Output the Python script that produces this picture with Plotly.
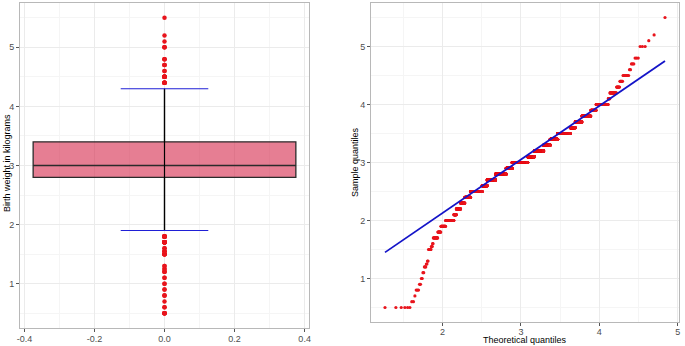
import numpy as np
import plotly.graph_objects as go
from statistics import NormalDist

# Birth weights (kg) and how many babies had each value (read from the Q-Q steps)
weights = [0.5, 0.6, 0.7, 0.8, 0.9, 1.0, 1.1, 1.2, 1.25, 1.3, 1.5, 1.55, 1.6, 1.7, 1.8, 1.9,
           2.0, 2.1, 2.2, 2.3, 2.4, 2.5, 2.6, 2.7, 2.8, 2.9, 3.0, 3.1, 3.2, 3.3, 3.4, 3.5,
           3.6, 3.7, 3.8, 3.9, 4.0, 4.1, 4.2, 4.3, 4.4, 4.5, 4.6, 4.7, 4.8, 5.0, 5.1, 5.2, 5.5]
counts = [6, 2, 1, 3, 2, 2, 2, 3, 2, 2, 6, 3, 2, 14, 12, 23,
          58, 22, 46, 55, 92, 258, 143, 285, 439, 278, 777, 331, 441, 280, 283, 375,
          113, 124, 121, 52, 77, 7, 22, 8, 6, 9, 2, 3, 3, 3, 1, 1, 1]

left_xticks = [-0.4, -0.2, 0.0, 0.2, 0.4]
left_xticklabels = ["-0.4", "-0.2", "0.0", "0.2", "0.4"]
yticks = [1, 2, 3, 4, 5]
right_xticks = [2, 3, 4, 5]

data = np.sort(np.repeat(np.array(weights), counts))
n = len(data)

# Box-plot statistics
q1, med, q3 = np.quantile(data, [0.25, 0.5, 0.75])
iqr = q3 - q1
upper = data[data <= q3 + 1.5 * iqr + 1e-9].max()
lower = data[data >= q1 - 1.5 * iqr - 1e-9].min()
outliers = data[(data > upper) | (data < lower)]

# Q-Q against a normal with the sample's mean and sd
mu = data.mean()
sd = data.std(ddof=1)
nd = NormalDist(mu, sd)
probs = (np.arange(1, n + 1) - 0.5) / n
theo = np.array([nd.inv_cdf(p) for p in probs])
tq1, tq3 = nd.inv_cdf(0.25), nd.inv_cdf(0.75)
slope = (q3 - q1) / (tq3 - tq1)
intercept = q1 - slope * tq1
line_x = np.array([theo.min(), theo.max()])
line_y = intercept + slope * line_x

W, H = 685, 346
def fx(px):
    return px / W
def fy(py):
    return 1 - py / H

fig = go.Figure()

# Left panel
fig.add_trace(go.Scatter(x=[0, 0], y=[lower, upper], mode="lines",
                         line=dict(color="black", width=1.2), xaxis="x", yaxis="y",
                         hoverinfo="skip"))
fig.add_trace(go.Scatter(x=[-0.125, 0.125, None, -0.125, 0.125],
                         y=[upper, upper, None, lower, lower], mode="lines",
                         line=dict(color="#1f1fd6", width=1.1), xaxis="x", yaxis="y"))
fig.add_trace(go.Box(x=[0], q1=[q1], median=[med], q3=[q3], lowerfence=[lower],
                     upperfence=[upper], width=0.75, whiskerwidth=0,
                     fillcolor="rgba(214,40,75,0.6)",
                     line=dict(color="#2b2b2b", width=1.3), boxpoints=False,
                     xaxis="x", yaxis="y"))
fig.add_trace(go.Scatter(x=np.zeros(len(outliers)), y=outliers, mode="markers",
                         marker=dict(color="#e8141c", size=4.5), xaxis="x", yaxis="y"))

# Right panel
fig.add_trace(go.Scatter(x=theo, y=data, mode="markers",
                         marker=dict(color="#e8141c", size=3.2), xaxis="x2", yaxis="y2"))
fig.add_trace(go.Scatter(x=line_x, y=line_y, mode="lines",
                         line=dict(color="#1414c8", width=1.8), xaxis="x2", yaxis="y2"))

tick_font = dict(family="Liberation Sans, Arial, sans-serif", size=9, color="#4d4d4d")
axis_common = dict(showgrid=True, gridcolor="#ebebeb", gridwidth=1,
                   zeroline=False, showline=True, linecolor="#b8b8b8", linewidth=1,
                   mirror=True, ticks="outside", ticklen=3, tickcolor="#555555",
                   tickwidth=1, tickfont=tick_font, automargin=False)

y_range = [0.25, 5.75]
rx0, rx1 = theo.min(), theo.max()
rpad = 0.05 * (rx1 - rx0)

fig.update_layout(
    width=W, height=H, margin=dict(l=0, r=0, t=0, b=0),
    paper_bgcolor="white", plot_bgcolor="white", showlegend=False,
    xaxis=dict(domain=[fx(20), fx(309)], range=[-0.4125, 0.4125],
               tickvals=left_xticks, ticktext=left_xticklabels, anchor="y",
               ticklabelstandoff=-1,
               minor=dict(dtick=0.1, tick0=-0.3, showgrid=True, gridcolor="#f5f5f5", ticks=""),
               **axis_common),
    yaxis=dict(domain=[fy(328), fy(3)], range=y_range, tickvals=yticks, anchor="x",
               minor=dict(dtick=0.5, tick0=0.5, showgrid=True, gridcolor="#f5f5f5", ticks=""),
               **axis_common),
    xaxis2=dict(domain=[fx(371), fx(679)], range=[rx0 - rpad, rx1 + rpad],
                tickvals=right_xticks, anchor="y2", ticklabelstandoff=-2,
                minor=dict(dtick=0.5, tick0=1.5, showgrid=True, gridcolor="#f5f5f5", ticks=""),
                **axis_common),
    yaxis2=dict(domain=[fy(322), fy(3)], range=y_range, tickvals=yticks, anchor="x2",
                minor=dict(dtick=0.5, tick0=0.5, showgrid=True, gridcolor="#f5f5f5", ticks=""),
                **axis_common),
)

title_font = dict(family="Liberation Sans, Arial, sans-serif", size=9, color="black")
fig.add_annotation(text="Birth weight in kilograms", xref="paper", yref="paper",
                   x=fx(7), y=fy(163), textangle=-90, showarrow=False, font=title_font,
                   xanchor="center", yanchor="middle")
fig.add_annotation(text="Sample quantiles", xref="paper", yref="paper",
                   x=fx(355), y=fy(162), textangle=-90, showarrow=False, font=title_font,
                   xanchor="center", yanchor="middle")
fig.add_annotation(text="Theoretical quantiles", xref="paper", yref="paper",
                   x=fx(525), y=0, showarrow=False, font=title_font, borderpad=0,
                   xanchor="center", yanchor="bottom")

fig.write_html("out.html", config={"displayModeBar": False},
               post_script="document.body.style.margin='0';document.body.style.overflow='hidden';")
